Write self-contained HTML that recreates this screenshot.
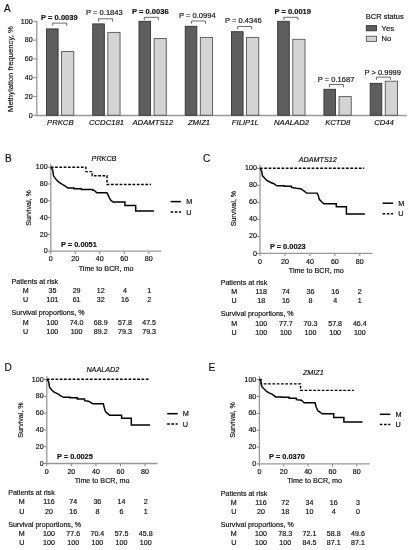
<!DOCTYPE html>
<html><head><meta charset="utf-8"><style>
html,body{margin:0;padding:0;background:#fff;}
body{width:411px;height:550px;overflow:hidden;}
svg{display:block;}
text{font-family:"Liberation Sans", sans-serif;fill:#111;stroke:#111;stroke-width:0.18px;}
svg{filter:blur(0.3px);}
</style></head><body>
<svg width="411" height="550" viewBox="0 0 411 550">
<rect width="411" height="550" fill="#fff"/>
<text x="3.90" y="11.60" font-size="10" text-anchor="start">A</text>
<line x1="36.80" y1="20.80" x2="36.80" y2="115.80" stroke="#999" stroke-width="1.3"/>
<line x1="36.20" y1="115.50" x2="406.80" y2="115.50" stroke="#999" stroke-width="1.3"/>
<line x1="33.40" y1="115.20" x2="36.40" y2="115.20" stroke="#777" stroke-width="0.9"/>
<text x="32.60" y="117.50" font-size="7.1" text-anchor="end">0</text>
<line x1="33.40" y1="96.44" x2="36.40" y2="96.44" stroke="#777" stroke-width="0.9"/>
<text x="32.60" y="98.74" font-size="7.1" text-anchor="end">20</text>
<line x1="33.40" y1="77.68" x2="36.40" y2="77.68" stroke="#777" stroke-width="0.9"/>
<text x="32.60" y="79.98" font-size="7.1" text-anchor="end">40</text>
<line x1="33.40" y1="58.92" x2="36.40" y2="58.92" stroke="#777" stroke-width="0.9"/>
<text x="32.60" y="61.22" font-size="7.1" text-anchor="end">60</text>
<line x1="33.40" y1="40.16" x2="36.40" y2="40.16" stroke="#777" stroke-width="0.9"/>
<text x="32.60" y="42.46" font-size="7.1" text-anchor="end">80</text>
<line x1="33.40" y1="21.40" x2="36.40" y2="21.40" stroke="#777" stroke-width="0.9"/>
<text x="32.60" y="23.70" font-size="7.1" text-anchor="end">100</text>
<text transform="translate(13.35,69.1) rotate(-90)" font-size="7.7" text-anchor="middle">Methylation frequency, %</text>
<rect x="46.50" y="28.90" width="11.60" height="86.30" fill="#5e5e5e" stroke="#333" stroke-width="0.9"/>
<rect x="61.60" y="51.50" width="12.20" height="63.70" fill="#d4d4d4" stroke="#555" stroke-width="0.9"/>
<path d="M52.70,25.90 L52.70,23.10 L66.70,23.10 L66.70,25.90" fill="none" stroke="#444" stroke-width="0.8" stroke-linejoin="miter"/>
<text x="41.10" y="20.20" font-size="7.6" text-anchor="start" font-weight="bold" textLength="36.6" lengthAdjust="spacingAndGlyphs">P = 0.0039</text>
<text x="60.30" y="125.30" font-size="7.7" text-anchor="middle" font-style="italic">PRKCB</text>
<rect x="92.74" y="23.90" width="11.60" height="91.30" fill="#5e5e5e" stroke="#333" stroke-width="0.9"/>
<rect x="107.84" y="32.40" width="12.20" height="82.80" fill="#d4d4d4" stroke="#555" stroke-width="0.9"/>
<path d="M98.60,21.60 L98.60,18.80 L112.60,18.80 L112.60,21.60" fill="none" stroke="#444" stroke-width="0.8" stroke-linejoin="miter"/>
<text x="86.10" y="15.10" font-size="7.6" text-anchor="start" textLength="36.6" lengthAdjust="spacingAndGlyphs">P = 0.1843</text>
<text x="106.54" y="125.30" font-size="7.7" text-anchor="middle" font-style="italic">CCDC181</text>
<rect x="138.98" y="21.30" width="11.60" height="93.90" fill="#5e5e5e" stroke="#333" stroke-width="0.9"/>
<rect x="154.08" y="38.60" width="12.20" height="76.60" fill="#d4d4d4" stroke="#555" stroke-width="0.9"/>
<path d="M144.30,20.10 L144.30,17.30 L158.30,17.30 L158.30,20.10" fill="none" stroke="#444" stroke-width="0.8" stroke-linejoin="miter"/>
<text x="132.00" y="13.90" font-size="7.6" text-anchor="start" font-weight="bold" textLength="36.6" lengthAdjust="spacingAndGlyphs">P = 0.0036</text>
<text x="152.78" y="125.30" font-size="7.7" text-anchor="middle" font-style="italic">ADAMTS12</text>
<rect x="185.22" y="26.30" width="11.60" height="88.90" fill="#5e5e5e" stroke="#333" stroke-width="0.9"/>
<rect x="200.32" y="37.40" width="12.20" height="77.80" fill="#d4d4d4" stroke="#555" stroke-width="0.9"/>
<path d="M191.60,23.80 L191.60,21.00 L205.60,21.00 L205.60,23.80" fill="none" stroke="#444" stroke-width="0.8" stroke-linejoin="miter"/>
<text x="179.00" y="17.50" font-size="7.6" text-anchor="start" textLength="36.6" lengthAdjust="spacingAndGlyphs">P = 0.0994</text>
<text x="199.02" y="125.30" font-size="7.7" text-anchor="middle" font-style="italic">ZMIZ1</text>
<rect x="231.46" y="31.70" width="11.60" height="83.50" fill="#5e5e5e" stroke="#333" stroke-width="0.9"/>
<rect x="246.56" y="37.40" width="12.20" height="77.80" fill="#d4d4d4" stroke="#555" stroke-width="0.9"/>
<path d="M237.60,29.30 L237.60,26.50 L251.60,26.50 L251.60,29.30" fill="none" stroke="#444" stroke-width="0.8" stroke-linejoin="miter"/>
<text x="225.00" y="23.20" font-size="7.6" text-anchor="start" textLength="36.6" lengthAdjust="spacingAndGlyphs">P = 0.4346</text>
<text x="245.26" y="125.30" font-size="7.7" text-anchor="middle" font-style="italic">FILIP1L</text>
<rect x="277.70" y="21.30" width="11.60" height="93.90" fill="#5e5e5e" stroke="#333" stroke-width="0.9"/>
<rect x="292.80" y="39.30" width="12.20" height="75.90" fill="#d4d4d4" stroke="#555" stroke-width="0.9"/>
<path d="M283.90,20.10 L283.90,17.30 L297.90,17.30 L297.90,20.10" fill="none" stroke="#444" stroke-width="0.8" stroke-linejoin="miter"/>
<text x="274.40" y="13.90" font-size="7.6" text-anchor="start" font-weight="bold" textLength="36.6" lengthAdjust="spacingAndGlyphs">P = 0.0019</text>
<text x="291.50" y="125.30" font-size="7.7" text-anchor="middle" font-style="italic">NAALAD2</text>
<rect x="323.94" y="89.30" width="11.60" height="25.90" fill="#5e5e5e" stroke="#333" stroke-width="0.9"/>
<rect x="339.04" y="96.60" width="12.20" height="18.60" fill="#d4d4d4" stroke="#555" stroke-width="0.9"/>
<path d="M329.40,87.30 L329.40,84.50 L343.40,84.50 L343.40,87.30" fill="none" stroke="#444" stroke-width="0.8" stroke-linejoin="miter"/>
<text x="317.80" y="81.60" font-size="7.6" text-anchor="start" textLength="36.6" lengthAdjust="spacingAndGlyphs">P = 0.1687</text>
<text x="337.74" y="125.30" font-size="7.7" text-anchor="middle" font-style="italic">KCTD8</text>
<rect x="370.18" y="83.30" width="11.60" height="31.90" fill="#5e5e5e" stroke="#333" stroke-width="0.9"/>
<rect x="385.28" y="81.20" width="12.20" height="34.00" fill="#d4d4d4" stroke="#555" stroke-width="0.9"/>
<path d="M376.40,79.90 L376.40,77.10 L390.40,77.10 L390.40,79.90" fill="none" stroke="#444" stroke-width="0.8" stroke-linejoin="miter"/>
<text x="364.40" y="74.60" font-size="7.6" text-anchor="start" textLength="36.6" lengthAdjust="spacingAndGlyphs">P &gt; 0.9999</text>
<text x="383.98" y="125.30" font-size="7.7" text-anchor="middle" font-style="italic">CD44</text>
<text x="365.80" y="19.40" font-size="7.5" text-anchor="start">BCR status</text>
<rect x="366.30" y="25.60" width="10.20" height="5.20" fill="#5e5e5e" stroke="#333" stroke-width="0.9"/>
<rect x="366.30" y="36.20" width="10.20" height="5.20" fill="#d4d4d4" stroke="#555" stroke-width="0.9"/>
<text x="381.60" y="30.80" font-size="7.6" text-anchor="start">Yes</text>
<text x="381.60" y="41.40" font-size="7.6" text-anchor="start">No</text>
<text x="5.00" y="161.60" font-size="10" text-anchor="start">B</text>
<line x1="50.80" y1="163.70" x2="50.80" y2="251.80" stroke="#999" stroke-width="1.3"/>
<line x1="50.20" y1="251.20" x2="161.40" y2="251.20" stroke="#999" stroke-width="1.3"/>
<line x1="47.80" y1="251.20" x2="50.40" y2="251.20" stroke="#777" stroke-width="0.9"/>
<text x="47.70" y="253.30" font-size="7.1" text-anchor="end">0</text>
<line x1="47.80" y1="234.40" x2="50.40" y2="234.40" stroke="#777" stroke-width="0.9"/>
<text x="47.70" y="236.50" font-size="7.1" text-anchor="end">20</text>
<line x1="47.80" y1="217.60" x2="50.40" y2="217.60" stroke="#777" stroke-width="0.9"/>
<text x="47.70" y="219.70" font-size="7.1" text-anchor="end">40</text>
<line x1="47.80" y1="200.80" x2="50.40" y2="200.80" stroke="#777" stroke-width="0.9"/>
<text x="47.70" y="202.90" font-size="7.1" text-anchor="end">60</text>
<line x1="47.80" y1="184.00" x2="50.40" y2="184.00" stroke="#777" stroke-width="0.9"/>
<text x="47.70" y="186.10" font-size="7.1" text-anchor="end">80</text>
<line x1="47.80" y1="167.20" x2="50.40" y2="167.20" stroke="#777" stroke-width="0.9"/>
<text x="47.70" y="169.30" font-size="7.1" text-anchor="end">100</text>
<line x1="50.80" y1="251.60" x2="50.80" y2="254.00" stroke="#777" stroke-width="0.9"/>
<text x="50.80" y="261.40" font-size="7.1" text-anchor="middle">0</text>
<line x1="75.30" y1="251.60" x2="75.30" y2="254.00" stroke="#777" stroke-width="0.9"/>
<text x="75.30" y="261.40" font-size="7.1" text-anchor="middle">20</text>
<line x1="99.80" y1="251.60" x2="99.80" y2="254.00" stroke="#777" stroke-width="0.9"/>
<text x="99.80" y="261.40" font-size="7.1" text-anchor="middle">40</text>
<line x1="124.30" y1="251.60" x2="124.30" y2="254.00" stroke="#777" stroke-width="0.9"/>
<text x="124.30" y="261.40" font-size="7.1" text-anchor="middle">60</text>
<line x1="148.80" y1="251.60" x2="148.80" y2="254.00" stroke="#777" stroke-width="0.9"/>
<text x="148.80" y="261.40" font-size="7.1" text-anchor="middle">80</text>
<text x="106.10" y="270.50" font-size="7.2" text-anchor="middle">Time to BCR, mo</text>
<text transform="translate(30.70,208.00) rotate(-90)" font-size="7.1" text-anchor="middle">Survival, %</text>
<text x="104.00" y="161.40" font-size="7.2" text-anchor="middle" font-style="italic">PRKCB</text>
<text x="61.00" y="246.80" font-size="7.4" text-anchor="start" font-weight="bold">P = 0.0051</text>
<path d="M50.80,167.30 L85.90,167.30 L85.90,171.60 L92.20,171.60 L92.20,175.80 L107.00,175.80 L107.00,184.50 L151.00,184.50" fill="none" stroke="#000" stroke-width="1.4" stroke-dasharray="2.7 1.6" stroke-linejoin="miter"/>
<path d="M50.80,167.30 L52.70,169.70 L53.50,175.80 L55.70,178.90 L58.20,181.70 L61.80,184.10 L64.90,185.80 L67.90,188.00 L74.00,188.00 L74.00,188.80 L81.30,188.80 L81.30,189.40 L92.80,189.40 L92.80,190.20 L94.30,190.50 L96.80,192.70 L107.00,192.70 L108.70,196.40 L110.40,199.80 L113.00,202.00 L124.90,202.00 L124.90,205.40 L135.70,205.40 L135.70,210.90 L153.90,210.90" fill="none" stroke="#000" stroke-width="1.45" stroke-linejoin="miter"/>
<line x1="170.60" y1="201.60" x2="181.10" y2="201.60" stroke="#000" stroke-width="1.5"/>
<line x1="170.60" y1="211.90" x2="181.10" y2="211.90" stroke="#000" stroke-width="1.5" stroke-dasharray="2.6 1.6"/>
<text x="186.20" y="204.20" font-size="7.3" text-anchor="start">M</text>
<text x="186.20" y="214.50" font-size="7.3" text-anchor="start">U</text>
<text x="11.60" y="284.00" font-size="7.1" text-anchor="start">Patients at risk</text>
<text x="25.60" y="293.00" font-size="7.1" text-anchor="middle">M</text>
<text x="25.60" y="302.30" font-size="7.1" text-anchor="middle">U</text>
<text x="11.60" y="315.30" font-size="7.1" text-anchor="start">Survival proportions, %</text>
<text x="25.60" y="324.50" font-size="7.1" text-anchor="middle">M</text>
<text x="25.60" y="333.90" font-size="7.1" text-anchor="middle">U</text>
<text x="52.40" y="293.00" font-size="7.1" text-anchor="middle">35</text>
<text x="76.58" y="293.00" font-size="7.1" text-anchor="middle">29</text>
<text x="100.76" y="293.00" font-size="7.1" text-anchor="middle">12</text>
<text x="124.94" y="293.00" font-size="7.1" text-anchor="middle">4</text>
<text x="149.12" y="293.00" font-size="7.1" text-anchor="middle">1</text>
<text x="52.40" y="302.30" font-size="7.1" text-anchor="middle">101</text>
<text x="76.58" y="302.30" font-size="7.1" text-anchor="middle">61</text>
<text x="100.76" y="302.30" font-size="7.1" text-anchor="middle">32</text>
<text x="124.94" y="302.30" font-size="7.1" text-anchor="middle">16</text>
<text x="149.12" y="302.30" font-size="7.1" text-anchor="middle">2</text>
<text x="52.40" y="324.50" font-size="7.1" text-anchor="middle">100</text>
<text x="76.58" y="324.50" font-size="7.1" text-anchor="middle">74.0</text>
<text x="100.76" y="324.50" font-size="7.1" text-anchor="middle">68.9</text>
<text x="124.94" y="324.50" font-size="7.1" text-anchor="middle">57.8</text>
<text x="149.12" y="324.50" font-size="7.1" text-anchor="middle">47.5</text>
<text x="52.40" y="333.90" font-size="7.1" text-anchor="middle">100</text>
<text x="76.58" y="333.90" font-size="7.1" text-anchor="middle">100</text>
<text x="100.76" y="333.90" font-size="7.1" text-anchor="middle">89.2</text>
<text x="124.94" y="333.90" font-size="7.1" text-anchor="middle">79.3</text>
<text x="149.12" y="333.90" font-size="7.1" text-anchor="middle">79.3</text>
<text x="203.00" y="162.00" font-size="10" text-anchor="start">C</text>
<line x1="260.00" y1="164.80" x2="260.00" y2="254.00" stroke="#999" stroke-width="1.3"/>
<line x1="259.40" y1="253.40" x2="372.60" y2="253.40" stroke="#999" stroke-width="1.3"/>
<line x1="257.00" y1="253.40" x2="259.60" y2="253.40" stroke="#777" stroke-width="0.9"/>
<text x="256.90" y="255.50" font-size="7.1" text-anchor="end">0</text>
<line x1="257.00" y1="236.38" x2="259.60" y2="236.38" stroke="#777" stroke-width="0.9"/>
<text x="256.90" y="238.48" font-size="7.1" text-anchor="end">20</text>
<line x1="257.00" y1="219.36" x2="259.60" y2="219.36" stroke="#777" stroke-width="0.9"/>
<text x="256.90" y="221.46" font-size="7.1" text-anchor="end">40</text>
<line x1="257.00" y1="202.34" x2="259.60" y2="202.34" stroke="#777" stroke-width="0.9"/>
<text x="256.90" y="204.44" font-size="7.1" text-anchor="end">60</text>
<line x1="257.00" y1="185.32" x2="259.60" y2="185.32" stroke="#777" stroke-width="0.9"/>
<text x="256.90" y="187.42" font-size="7.1" text-anchor="end">80</text>
<line x1="257.00" y1="168.30" x2="259.60" y2="168.30" stroke="#777" stroke-width="0.9"/>
<text x="256.90" y="170.40" font-size="7.1" text-anchor="end">100</text>
<line x1="260.00" y1="253.80" x2="260.00" y2="256.20" stroke="#777" stroke-width="0.9"/>
<text x="260.00" y="263.60" font-size="7.1" text-anchor="middle">0</text>
<line x1="284.95" y1="253.80" x2="284.95" y2="256.20" stroke="#777" stroke-width="0.9"/>
<text x="284.95" y="263.60" font-size="7.1" text-anchor="middle">20</text>
<line x1="309.90" y1="253.80" x2="309.90" y2="256.20" stroke="#777" stroke-width="0.9"/>
<text x="309.90" y="263.60" font-size="7.1" text-anchor="middle">40</text>
<line x1="334.85" y1="253.80" x2="334.85" y2="256.20" stroke="#777" stroke-width="0.9"/>
<text x="334.85" y="263.60" font-size="7.1" text-anchor="middle">60</text>
<line x1="359.80" y1="253.80" x2="359.80" y2="256.20" stroke="#777" stroke-width="0.9"/>
<text x="359.80" y="263.60" font-size="7.1" text-anchor="middle">80</text>
<text x="316.30" y="272.70" font-size="7.2" text-anchor="middle">Time to BCR, mo</text>
<text transform="translate(236.10,208.60) rotate(-90)" font-size="7.1" text-anchor="middle">Survival, %</text>
<text x="317.80" y="161.60" font-size="7.2" text-anchor="middle" font-style="italic">ADAMTS12</text>
<text x="269.90" y="248.70" font-size="7.4" text-anchor="start" font-weight="bold">P = 0.0023</text>
<path d="M260.00,168.30 L364.30,168.30" fill="none" stroke="#000" stroke-width="1.4" stroke-dasharray="2.7 1.6" stroke-linejoin="miter"/>
<path d="M260.00,168.30 L261.70,171.00 L262.50,175.80 L264.70,178.20 L267.20,180.70 L270.80,182.50 L273.90,183.70 L276.90,185.80 L284.20,185.80 L284.20,186.20 L291.50,186.20 L291.50,187.40 L296.40,188.20 L300.70,188.80 L302.00,189.50 L304.00,191.00 L306.50,193.10 L317.20,193.10 L318.50,196.00 L319.20,199.30 L321.00,201.00 L322.10,202.20 L324.00,203.80 L336.30,203.80 L336.30,206.70 L346.40,206.70 L346.40,213.90 L364.90,213.90" fill="none" stroke="#000" stroke-width="1.45" stroke-linejoin="miter"/>
<line x1="382.60" y1="203.20" x2="393.10" y2="203.20" stroke="#000" stroke-width="1.5"/>
<line x1="382.60" y1="213.70" x2="393.10" y2="213.70" stroke="#000" stroke-width="1.5" stroke-dasharray="2.6 1.6"/>
<text x="398.20" y="205.80" font-size="7.3" text-anchor="start">M</text>
<text x="398.20" y="216.30" font-size="7.3" text-anchor="start">U</text>
<text x="220.70" y="284.60" font-size="7.1" text-anchor="start">Patients at risk</text>
<text x="234.10" y="293.70" font-size="7.1" text-anchor="middle">M</text>
<text x="234.10" y="302.80" font-size="7.1" text-anchor="middle">U</text>
<text x="220.70" y="316.40" font-size="7.1" text-anchor="start">Survival proportions, %</text>
<text x="234.10" y="325.70" font-size="7.1" text-anchor="middle">M</text>
<text x="234.10" y="334.80" font-size="7.1" text-anchor="middle">U</text>
<text x="261.20" y="293.70" font-size="7.1" text-anchor="middle">118</text>
<text x="285.85" y="293.70" font-size="7.1" text-anchor="middle">74</text>
<text x="310.50" y="293.70" font-size="7.1" text-anchor="middle">36</text>
<text x="335.15" y="293.70" font-size="7.1" text-anchor="middle">16</text>
<text x="359.80" y="293.70" font-size="7.1" text-anchor="middle">2</text>
<text x="261.20" y="302.80" font-size="7.1" text-anchor="middle">18</text>
<text x="285.85" y="302.80" font-size="7.1" text-anchor="middle">16</text>
<text x="310.50" y="302.80" font-size="7.1" text-anchor="middle">8</text>
<text x="335.15" y="302.80" font-size="7.1" text-anchor="middle">4</text>
<text x="359.80" y="302.80" font-size="7.1" text-anchor="middle">1</text>
<text x="261.20" y="325.70" font-size="7.1" text-anchor="middle">100</text>
<text x="285.85" y="325.70" font-size="7.1" text-anchor="middle">77.7</text>
<text x="310.50" y="325.70" font-size="7.1" text-anchor="middle">70.3</text>
<text x="335.15" y="325.70" font-size="7.1" text-anchor="middle">57.8</text>
<text x="359.80" y="325.70" font-size="7.1" text-anchor="middle">46.4</text>
<text x="261.20" y="334.80" font-size="7.1" text-anchor="middle">100</text>
<text x="285.85" y="334.80" font-size="7.1" text-anchor="middle">100</text>
<text x="310.50" y="334.80" font-size="7.1" text-anchor="middle">100</text>
<text x="335.15" y="334.80" font-size="7.1" text-anchor="middle">100</text>
<text x="359.80" y="334.80" font-size="7.1" text-anchor="middle">100</text>
<text x="4.60" y="371.20" font-size="10" text-anchor="start">D</text>
<line x1="46.80" y1="376.00" x2="46.80" y2="464.10" stroke="#999" stroke-width="1.3"/>
<line x1="46.20" y1="463.50" x2="157.40" y2="463.50" stroke="#999" stroke-width="1.3"/>
<line x1="43.80" y1="463.50" x2="46.40" y2="463.50" stroke="#777" stroke-width="0.9"/>
<text x="43.70" y="465.60" font-size="7.1" text-anchor="end">0</text>
<line x1="43.80" y1="446.70" x2="46.40" y2="446.70" stroke="#777" stroke-width="0.9"/>
<text x="43.70" y="448.80" font-size="7.1" text-anchor="end">20</text>
<line x1="43.80" y1="429.90" x2="46.40" y2="429.90" stroke="#777" stroke-width="0.9"/>
<text x="43.70" y="432.00" font-size="7.1" text-anchor="end">40</text>
<line x1="43.80" y1="413.10" x2="46.40" y2="413.10" stroke="#777" stroke-width="0.9"/>
<text x="43.70" y="415.20" font-size="7.1" text-anchor="end">60</text>
<line x1="43.80" y1="396.30" x2="46.40" y2="396.30" stroke="#777" stroke-width="0.9"/>
<text x="43.70" y="398.40" font-size="7.1" text-anchor="end">80</text>
<line x1="43.80" y1="379.50" x2="46.40" y2="379.50" stroke="#777" stroke-width="0.9"/>
<text x="43.70" y="381.60" font-size="7.1" text-anchor="end">100</text>
<line x1="46.80" y1="463.90" x2="46.80" y2="466.30" stroke="#777" stroke-width="0.9"/>
<text x="46.80" y="473.70" font-size="7.1" text-anchor="middle">0</text>
<line x1="71.35" y1="463.90" x2="71.35" y2="466.30" stroke="#777" stroke-width="0.9"/>
<text x="71.35" y="473.70" font-size="7.1" text-anchor="middle">20</text>
<line x1="95.90" y1="463.90" x2="95.90" y2="466.30" stroke="#777" stroke-width="0.9"/>
<text x="95.90" y="473.70" font-size="7.1" text-anchor="middle">40</text>
<line x1="120.45" y1="463.90" x2="120.45" y2="466.30" stroke="#777" stroke-width="0.9"/>
<text x="120.45" y="473.70" font-size="7.1" text-anchor="middle">60</text>
<line x1="145.00" y1="463.90" x2="145.00" y2="466.30" stroke="#777" stroke-width="0.9"/>
<text x="145.00" y="473.70" font-size="7.1" text-anchor="middle">80</text>
<text x="102.10" y="482.80" font-size="7.2" text-anchor="middle">Time to BCR, mo</text>
<text transform="translate(23.40,420.10) rotate(-90)" font-size="7.1" text-anchor="middle">Survival, %</text>
<text x="102.80" y="372.40" font-size="7.2" text-anchor="middle" font-style="italic">NAALAD2</text>
<text x="57.00" y="458.70" font-size="7.4" text-anchor="start" font-weight="bold">P = 0.0025</text>
<path d="M46.90,379.30 L149.50,379.30" fill="none" stroke="#000" stroke-width="1.4" stroke-dasharray="2.7 1.6" stroke-linejoin="miter"/>
<path d="M46.90,379.30 L48.70,381.70 L49.50,387.20 L51.70,390.00 L54.20,392.10 L57.80,393.90 L61.50,396.30 L63.90,397.30 L70.00,397.30 L70.00,397.80 L77.30,397.80 L77.30,399.00 L84.60,399.00 L84.60,400.60 L88.40,401.20 L92.70,403.70 L103.40,403.70 L104.10,407.10 L105.40,411.40 L107.10,413.10 L109.70,415.30 L121.60,415.30 L121.60,418.20 L131.30,418.20 L131.30,425.00 L150.10,425.00" fill="none" stroke="#000" stroke-width="1.45" stroke-linejoin="miter"/>
<line x1="167.20" y1="413.70" x2="177.70" y2="413.70" stroke="#000" stroke-width="1.5"/>
<line x1="167.20" y1="424.10" x2="177.70" y2="424.10" stroke="#000" stroke-width="1.5" stroke-dasharray="2.6 1.6"/>
<text x="182.80" y="416.30" font-size="7.3" text-anchor="start">M</text>
<text x="182.80" y="426.70" font-size="7.3" text-anchor="start">U</text>
<text x="8.20" y="495.40" font-size="7.1" text-anchor="start">Patients at risk</text>
<text x="21.80" y="504.40" font-size="7.1" text-anchor="middle">M</text>
<text x="21.80" y="513.60" font-size="7.1" text-anchor="middle">U</text>
<text x="8.20" y="526.70" font-size="7.1" text-anchor="start">Survival proportions, %</text>
<text x="21.80" y="536.00" font-size="7.1" text-anchor="middle">M</text>
<text x="21.80" y="545.00" font-size="7.1" text-anchor="middle">U</text>
<text x="49.00" y="504.40" font-size="7.1" text-anchor="middle">116</text>
<text x="73.18" y="504.40" font-size="7.1" text-anchor="middle">74</text>
<text x="97.36" y="504.40" font-size="7.1" text-anchor="middle">36</text>
<text x="121.54" y="504.40" font-size="7.1" text-anchor="middle">14</text>
<text x="145.72" y="504.40" font-size="7.1" text-anchor="middle">2</text>
<text x="49.00" y="513.60" font-size="7.1" text-anchor="middle">20</text>
<text x="73.18" y="513.60" font-size="7.1" text-anchor="middle">16</text>
<text x="97.36" y="513.60" font-size="7.1" text-anchor="middle">8</text>
<text x="121.54" y="513.60" font-size="7.1" text-anchor="middle">6</text>
<text x="145.72" y="513.60" font-size="7.1" text-anchor="middle">1</text>
<text x="49.00" y="536.00" font-size="7.1" text-anchor="middle">100</text>
<text x="73.18" y="536.00" font-size="7.1" text-anchor="middle">77.6</text>
<text x="97.36" y="536.00" font-size="7.1" text-anchor="middle">70.4</text>
<text x="121.54" y="536.00" font-size="7.1" text-anchor="middle">57.5</text>
<text x="145.72" y="536.00" font-size="7.1" text-anchor="middle">45.8</text>
<text x="49.00" y="545.00" font-size="7.1" text-anchor="middle">100</text>
<text x="73.18" y="545.00" font-size="7.1" text-anchor="middle">100</text>
<text x="97.36" y="545.00" font-size="7.1" text-anchor="middle">100</text>
<text x="121.54" y="545.00" font-size="7.1" text-anchor="middle">100</text>
<text x="145.72" y="545.00" font-size="7.1" text-anchor="middle">100</text>
<text x="208.60" y="371.20" font-size="10" text-anchor="start">E</text>
<line x1="259.40" y1="376.20" x2="259.40" y2="464.50" stroke="#999" stroke-width="1.3"/>
<line x1="258.80" y1="463.90" x2="369.90" y2="463.90" stroke="#999" stroke-width="1.3"/>
<line x1="256.40" y1="463.90" x2="259.00" y2="463.90" stroke="#777" stroke-width="0.9"/>
<text x="256.30" y="466.00" font-size="7.1" text-anchor="end">0</text>
<line x1="256.40" y1="447.06" x2="259.00" y2="447.06" stroke="#777" stroke-width="0.9"/>
<text x="256.30" y="449.16" font-size="7.1" text-anchor="end">20</text>
<line x1="256.40" y1="430.22" x2="259.00" y2="430.22" stroke="#777" stroke-width="0.9"/>
<text x="256.30" y="432.32" font-size="7.1" text-anchor="end">40</text>
<line x1="256.40" y1="413.38" x2="259.00" y2="413.38" stroke="#777" stroke-width="0.9"/>
<text x="256.30" y="415.48" font-size="7.1" text-anchor="end">60</text>
<line x1="256.40" y1="396.54" x2="259.00" y2="396.54" stroke="#777" stroke-width="0.9"/>
<text x="256.30" y="398.64" font-size="7.1" text-anchor="end">80</text>
<line x1="256.40" y1="379.70" x2="259.00" y2="379.70" stroke="#777" stroke-width="0.9"/>
<text x="256.30" y="381.80" font-size="7.1" text-anchor="end">100</text>
<line x1="259.40" y1="464.30" x2="259.40" y2="466.70" stroke="#777" stroke-width="0.9"/>
<text x="259.40" y="474.10" font-size="7.1" text-anchor="middle">0</text>
<line x1="283.75" y1="464.30" x2="283.75" y2="466.70" stroke="#777" stroke-width="0.9"/>
<text x="283.75" y="474.10" font-size="7.1" text-anchor="middle">20</text>
<line x1="308.10" y1="464.30" x2="308.10" y2="466.70" stroke="#777" stroke-width="0.9"/>
<text x="308.10" y="474.10" font-size="7.1" text-anchor="middle">40</text>
<line x1="332.45" y1="464.30" x2="332.45" y2="466.70" stroke="#777" stroke-width="0.9"/>
<text x="332.45" y="474.10" font-size="7.1" text-anchor="middle">60</text>
<line x1="356.80" y1="464.30" x2="356.80" y2="466.70" stroke="#777" stroke-width="0.9"/>
<text x="356.80" y="474.10" font-size="7.1" text-anchor="middle">80</text>
<text x="314.65" y="483.20" font-size="7.2" text-anchor="middle">Time to BCR, mo</text>
<text transform="translate(234.90,420.00) rotate(-90)" font-size="7.1" text-anchor="middle">Survival, %</text>
<text x="313.30" y="375.20" font-size="7.2" text-anchor="middle" font-style="italic">ZMIZ1</text>
<text x="269.10" y="458.90" font-size="7.4" text-anchor="start" font-weight="bold">P = 0.0370</text>
<path d="M259.60,379.50 L261.10,379.50 L261.10,383.90 L300.50,383.90 L300.50,390.40 L353.80,390.40" fill="none" stroke="#000" stroke-width="1.4" stroke-dasharray="2.7 1.6" stroke-linejoin="miter"/>
<path d="M259.60,379.50 L261.10,381.70 L261.70,386.40 L264.10,389.00 L266.60,391.50 L269.00,392.90 L272.00,394.10 L275.70,396.90 L281.80,396.90 L281.80,397.30 L289.10,397.30 L289.10,398.20 L296.40,398.20 L296.40,399.70 L301.40,400.30 L304.10,402.80 L315.10,402.80 L316.00,406.50 L317.80,410.70 L319.60,411.90 L322.00,413.80 L333.70,413.80 L333.70,417.40 L343.90,417.40 L343.90,422.00 L362.50,422.00" fill="none" stroke="#000" stroke-width="1.45" stroke-linejoin="miter"/>
<line x1="379.80" y1="414.30" x2="390.30" y2="414.30" stroke="#000" stroke-width="1.5"/>
<line x1="379.80" y1="424.40" x2="390.30" y2="424.40" stroke="#000" stroke-width="1.5" stroke-dasharray="2.6 1.6"/>
<text x="395.40" y="416.90" font-size="7.3" text-anchor="start">M</text>
<text x="395.40" y="427.00" font-size="7.3" text-anchor="start">U</text>
<text x="220.80" y="495.70" font-size="7.1" text-anchor="start">Patients at risk</text>
<text x="233.80" y="505.30" font-size="7.1" text-anchor="middle">M</text>
<text x="233.80" y="514.40" font-size="7.1" text-anchor="middle">U</text>
<text x="220.80" y="527.00" font-size="7.1" text-anchor="start">Survival proportions, %</text>
<text x="233.80" y="536.30" font-size="7.1" text-anchor="middle">M</text>
<text x="233.80" y="545.40" font-size="7.1" text-anchor="middle">U</text>
<text x="261.00" y="505.30" font-size="7.1" text-anchor="middle">116</text>
<text x="285.25" y="505.30" font-size="7.1" text-anchor="middle">72</text>
<text x="309.50" y="505.30" font-size="7.1" text-anchor="middle">34</text>
<text x="333.75" y="505.30" font-size="7.1" text-anchor="middle">16</text>
<text x="358.00" y="505.30" font-size="7.1" text-anchor="middle">3</text>
<text x="261.00" y="514.40" font-size="7.1" text-anchor="middle">20</text>
<text x="285.25" y="514.40" font-size="7.1" text-anchor="middle">18</text>
<text x="309.50" y="514.40" font-size="7.1" text-anchor="middle">10</text>
<text x="333.75" y="514.40" font-size="7.1" text-anchor="middle">4</text>
<text x="358.00" y="514.40" font-size="7.1" text-anchor="middle">0</text>
<text x="261.00" y="536.30" font-size="7.1" text-anchor="middle">100</text>
<text x="285.25" y="536.30" font-size="7.1" text-anchor="middle">78.3</text>
<text x="309.50" y="536.30" font-size="7.1" text-anchor="middle">72.1</text>
<text x="333.75" y="536.30" font-size="7.1" text-anchor="middle">58.8</text>
<text x="358.00" y="536.30" font-size="7.1" text-anchor="middle">49.6</text>
<text x="261.00" y="545.40" font-size="7.1" text-anchor="middle">100</text>
<text x="285.25" y="545.40" font-size="7.1" text-anchor="middle">100</text>
<text x="309.50" y="545.40" font-size="7.1" text-anchor="middle">84.5</text>
<text x="333.75" y="545.40" font-size="7.1" text-anchor="middle">87.1</text>
<text x="358.00" y="545.40" font-size="7.1" text-anchor="middle">87.1</text>
</svg>
</body></html>
